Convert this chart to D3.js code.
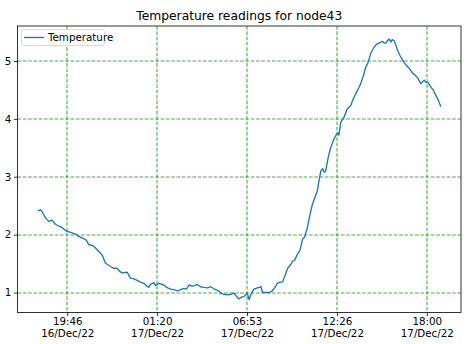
<!DOCTYPE html>
<html>
<head>
<meta charset="utf-8">
<script src="https://cdn.jsdelivr.net/npm/d3@7/dist/d3.min.js"></script>
<style>
  html, body { margin: 0; padding: 0; background: #fff; }
  svg { display: block; font-family: "DejaVu Sans", sans-serif; }
</style>
</head>
<body>
<svg id="chart" width="474" height="344"></svg>
<script>
// ---- data ----
const title = "Temperature readings for node43";
const seriesName = "Temperature";
const startTime = "2022-12-16T17:57:00";
// minutes elapsed since startTime
const elapsedMinutes = [
  0,10,16,29,41,53,66,78,91,107,128,140,152,171,181,189,208,221,233,240,
  251,270,281,295,303,313,332,344,355,369,381,394,406,412,418,431,437,449,468,478,
  493,505,518,530,542,552,561,573,582,592,604,616,630,641,652,660,671,678,691,703,
  716,728,738,746,756,765,771,777,784,790,802,809,821,828,834,846,858,870,879,889,
  898,908,920,927,938,945,953,963,972,982,990,1000,1009,1019,1027,1037,1044,1050,1057,1063,
  1068,1078,1087,1096,1105,1113,1117,1124,1135,1149,1161,1168,1180,1189,1198,1208,1217,1224,1235,1245,
  1254,1265,1279,1285,1291,1297,1303,1310,1315,1322,1328,1334,1343,1353,1361,1372,1380,1390,1399,1410,
  1421,1427,1433,1440,1447,1458,1467,1476,1486,1495
];
const temperature = [
  2.41,2.43,2.40,2.29,2.23,2.25,2.18,2.15,2.12,2.06,2.03,2.01,1.97,1.93,1.90,1.83,1.80,1.74,1.68,1.64,
  1.51,1.45,1.42,1.42,1.37,1.34,1.35,1.25,1.24,1.21,1.18,1.16,1.11,1.09,1.14,1.17,1.12,1.16,1.13,1.09,
  1.06,1.05,1.03,1.05,1.07,1.06,1.13,1.11,1.12,1.14,1.10,1.09,1.08,1.10,1.07,1.05,1.03,0.99,0.97,0.96,
  0.97,0.99,0.93,0.89,0.92,0.93,0.96,0.99,0.88,0.96,1.06,1.07,1.09,1.10,1.00,1.00,1.00,1.03,1.08,1.16,
  1.18,1.18,1.33,1.42,1.48,1.54,1.56,1.66,1.72,1.92,1.96,2.12,2.33,2.53,2.63,2.76,2.95,3.10,3.14,3.08,
  3.10,3.35,3.51,3.62,3.71,3.76,3.72,3.94,4.02,4.18,4.23,4.32,4.44,4.52,4.61,4.75,4.90,4.96,5.13,5.22,
  5.28,5.31,5.34,5.31,5.31,5.35,5.38,5.33,5.37,5.35,5.28,5.19,5.10,5.02,4.96,4.90,4.86,4.79,4.76,4.70,
  4.61,4.64,4.67,4.63,4.63,4.55,4.50,4.41,4.32,4.21
];
const xTickTimes = ["2022-12-16T19:46:40","2022-12-17T01:20:00","2022-12-17T06:53:20","2022-12-17T12:26:40","2022-12-17T18:00:00"];
const yTickValues = [1, 2, 3, 4, 5];

// ---- build ----
const t0 = new Date(startTime);
const data = elapsedMinutes.map((m, i) => ({ t: new Date(t0.getTime() + m * 60000), v: temperature[i] }));
const xTicks = xTickTimes.map(s => new Date(s));

const svg = d3.select("#chart");
const L = 17.5, R = 461, T = 26, B = 312.5;

const tExt = d3.extent(data, d => d.t);
const tSpan = tExt[1] - tExt[0];
const x = d3.scaleTime()
  .domain([new Date(+tExt[0] - 0.05 * tSpan), new Date(+tExt[1] + 0.05 * tSpan)])
  .range([L, R]);
const vExt = d3.extent(data, d => d.v);
const vSpan = vExt[1] - vExt[0];
const y = d3.scaleLinear()
  .domain([vExt[0] - 0.05 * vSpan, vExt[1] + 0.05 * vSpan])
  .range([B, T]);

// grid
const gridColor = "#1a9a1a";
const grid = svg.append("g");
grid.selectAll("line.gx").data(xTicks).join("line").attr("class", "gx")
  .attr("x1", d => Math.round(x(d))).attr("x2", d => Math.round(x(d)))
  .attr("y1", T).attr("y2", B);
grid.selectAll("line.gy").data(yTickValues).join("line").attr("class", "gy")
  .attr("y1", d => Math.round(y(d))).attr("y2", d => Math.round(y(d)))
  .attr("x1", L).attr("x2", R);
grid.selectAll("line")
  .style("stroke", gridColor).style("stroke-width", "1.1px")
  .style("stroke-dasharray", "3.7,1.6").style("stroke-opacity", 0.8);

// line
svg.append("path").datum(data)
  .attr("fill", "none").attr("stroke", "#1f77b4").attr("stroke-width", 1.35)
  .attr("stroke-linejoin", "round")
  .attr("d", d3.line().x(d => x(d.t)).y(d => y(d.v)));

// axes
const fmtH = d3.timeFormat("%H:%M"), fmtD = d3.timeFormat("%d/%b/%y");
const xAxis = svg.append("g").attr("transform", `translate(0,${B})`)
  .call(d3.axisBottom(x).tickValues(xTicks).tickSize(3.6).tickPadding(2).tickFormat(() => ""));
xAxis.select(".domain").remove();
xAxis.selectAll(".tick line").attr("stroke-width", 0.8);
xAxis.selectAll(".tick text").each(function(d) {
  const t = d3.select(this).attr("font-size", 10.3).attr("font-family", "DejaVu Sans").attr("fill", "#000");
  t.append("tspan").attr("x", 0).attr("dy", "0.71em").text(fmtH(d));
  t.append("tspan").attr("x", 0).attr("dy", "1.15em").text(fmtD(d));
});

const yAxis = svg.append("g").attr("transform", `translate(${L},0)`)
  .call(d3.axisLeft(y).tickValues(yTickValues).tickSize(3.6).tickPadding(2.5).tickFormat(d3.format("d")));
yAxis.select(".domain").remove();
yAxis.selectAll(".tick line").attr("stroke-width", 0.8);
yAxis.selectAll(".tick text").attr("font-size", 10.3).attr("font-family", "DejaVu Sans").attr("fill", "#000");

// frame
svg.append("rect").attr("x", L).attr("y", T).attr("width", R - L).attr("height", B - T)
  .attr("fill", "none").attr("stroke", "#000").attr("stroke-width", 0.8);

// title
svg.append("text").attr("x", (L + R) / 2).attr("y", 20).attr("text-anchor", "middle")
  .attr("font-size", 12.3).attr("fill", "#000").text(title);

// legend
const lg = svg.append("g");
lg.append("rect").attr("x", 21.5).attr("y", 29.5).attr("width", 83).attr("height", 16).attr("rx", 2)
  .attr("fill", "#fff").attr("fill-opacity", 0.8).attr("stroke", "#d0d0d0").attr("stroke-width", 0.8);
lg.append("line").attr("x1", 24).attr("x2", 44).attr("y1", 37.5).attr("y2", 37.5)
  .attr("stroke", "#1f77b4").attr("stroke-width", 1.35);
lg.append("text").attr("x", 48).attr("y", 41.2).attr("font-size", 10.3).attr("fill", "#000").text(seriesName);
</script>
</body>
</html>
